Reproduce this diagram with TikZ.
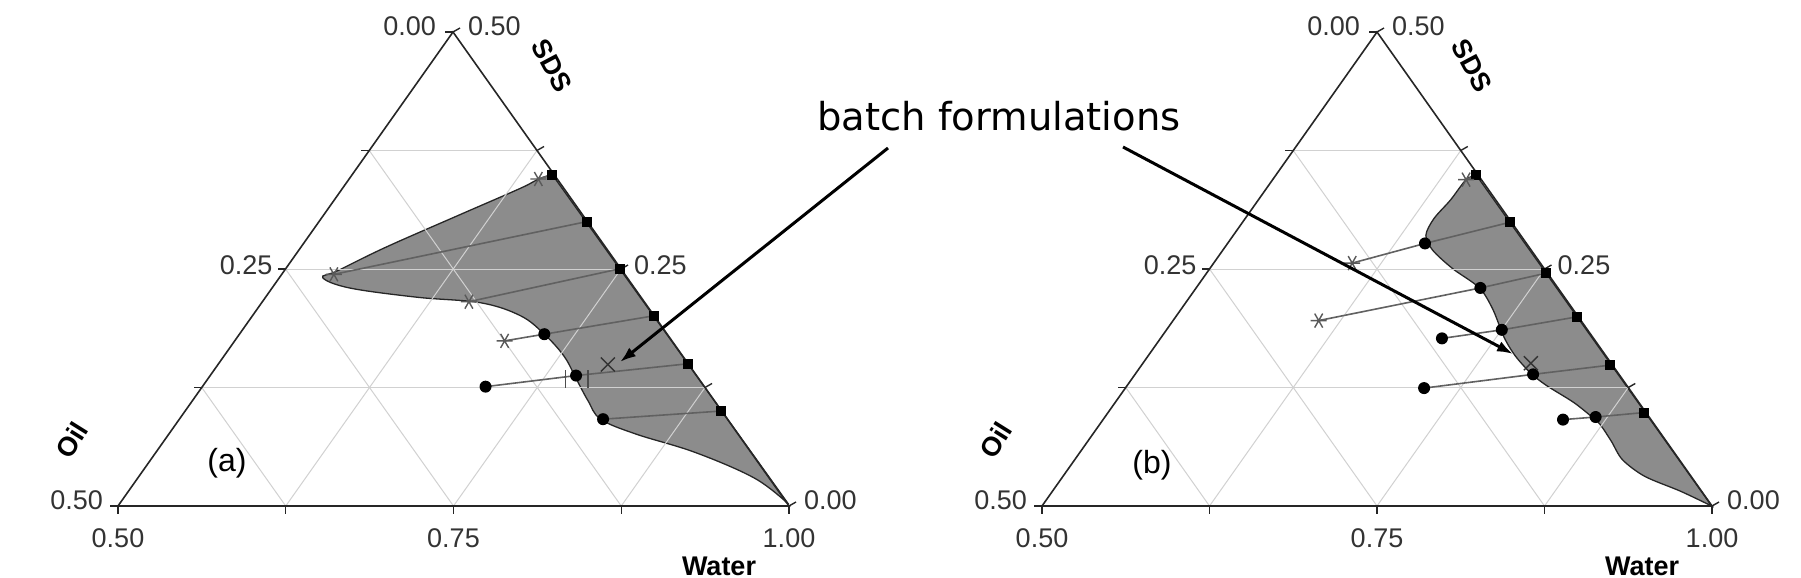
\documentclass[tikz,border=0pt]{standalone}
\usepackage{fontspec}
\setmainfont{Liberation Sans}
\newfontfamily\dv{DejaVu Sans}
\usetikzlibrary{calc,arrows.meta}
\tikzset{
  side/.style={draw=black!85, line width=1.6pt},
  gridl/.style={draw=black!18, line width=1pt},
  tick/.style={draw=black!85, line width=1.4pt},
  num/.style={font=\fontsize{27}{27}\selectfont, text=black!80, inner sep=1pt},
  axl/.style={font=\bfseries\fontsize{27}{27}\selectfont, inner sep=0pt},
  region/.style={fill=black!45, draw=black!85, line width=1.3pt},
  tie/.style={draw=black!62, line width=1.6pt},
  mdot/.style={circle, fill=black, inner sep=0pt, minimum size=12pt},
  msq/.style={rectangle, fill=black, inner sep=0pt, minimum size=10pt},
  callout/.style={line width=3pt, -{Latex[length=16pt,width=11pt]}},
  astk/.pic={\draw[black!65, line width=1.4pt] (-8pt,0)--(8pt,0) (-4pt,-7pt)--(4pt,7pt) (-4pt,7pt)--(4pt,-7pt);},
  xmk/.pic={\draw[black!80, line width=1.4pt] (-7pt,-7pt)--(7pt,7pt) (-7pt,7pt)--(7pt,-7pt);},
  vbar/.pic={\draw[black!70, line width=1.4pt] (0,-9pt)--(0,9pt);}
}
\newcommand\ternframe[3]{% apex L R
  \foreach \t in {0.25,0.5,0.75}{
    \draw[gridl] ($(#2)!\t!(#1)$) -- ($(#3)!\t!(#1)$);
    \draw[gridl] ($(#2)!\t!(#3)$) -- ($(#1)!\t!(#3)$);
    \draw[gridl] ($(#2)!\t!(#3)$) -- ($(#2)!\t!(#1)$);
  }
  \draw[side] (#1) -- (#2) -- (#3) -- cycle;
  \foreach \t in {0,0.25,0.5,0.75,1}{
    \draw[tick] ($(#1)!\t!(#2)$) -- ++(-8,0);
    \draw[tick] ($(#2)!\t!(#3)$) -- ++(0,8);
    \draw[tick] ($(#1)!\t!(#3)$) -- ++(7,-4);
  }
  \node[num, anchor=east] at ($(#1)+(-16,-6)$) {0.00};
  \node[num, anchor=west] at ($(#1)+(14,-6)$) {0.50};
  \node[num, anchor=east] at ($($(#1)!0.5!(#2)$)+(-12,-4)$) {0.25};
  \node[num, anchor=west] at ($($(#1)!0.5!(#3)$)+(12,-4)$) {0.25};
  \node[num, anchor=east] at ($(#2)+(-14,-6)$) {0.50};
  \node[num, anchor=west] at ($(#3)+(14,-6)$) {0.00};
  \node[num] at ($(#2)+(0,32)$) {0.50};
  \node[num] at ($($(#2)!0.5!(#3)$)+(0,32)$) {0.75};
  \node[num] at ($(#3)+(0,32)$) {1.00};
}
\begin{document}
\begin{tikzpicture}[x=1pt,y=-1pt]
\useasboundingbox (0,0) rectangle (1801,578);
\fill[white] (0,0) rectangle (1801,578);
\coordinate (A1) at (453,32); \coordinate (L1) at (118,506); \coordinate (R1) at (789,506);
\coordinate (A2) at (1377,32); \coordinate (L2) at (1042,506); \coordinate (R2) at (1712,506);
% panel a
\begin{scope}[shift={(179.04,-2)}, x=0.39704pt, y=-0.36945pt]
  \draw[region] (940,478) -- (1535,1370)
    plot[smooth, tension=0.6] coordinates {(1535,1370) (1450,1300) (1300,1230) (1150,1180) (1062,1140) (1030,1090) (1000,1030) (970,970) (920,910) (860,860) (760,825) (600,810) (430,785) (362,757) (400,738) (520,675) (700,590) (860,515) (905,490) (940,478)} -- cycle;
\end{scope}
\ternframe{A1}{L1}{R1}
\begin{scope}[shift={(179.04,-2)}, x=0.39704pt, y=-0.36945pt]
  \coordinate (s1) at (940,478); \coordinate (s2) at (1028,605); \coordinate (s3) at (1110,733);
  \coordinate (s4) at (1197,860); \coordinate (s5) at (1282,990); \coordinate (s6) at (1365,1118);
  \coordinate (a1) at (905,490); \coordinate (a2) at (390,748); \coordinate (a3) at (730,822);
  \coordinate (c4) at (920,910); \coordinate (a4) at (820,928);
  \coordinate (c5) at (1000,1022); \coordinate (d5) at (772,1052);
  \coordinate (c6) at (1068,1140); \coordinate (xa) at (1080,992);
  \coordinate (b1) at (973,1030); \coordinate (b2) at (1030,1030);
  \draw[tie] (s1) -- (a1); \draw[tie] (s2) -- (a2); \draw[tie] (s3) -- (a3);
  \draw[tie] (s4) -- (c4) -- (a4); \draw[tie] (s5) -- (c5) -- (d5); \draw[tie] (s6) -- (c6);
  \foreach \p in {s1,s2,s3,s4,s5,s6} \node[msq] at (\p) {};
  \foreach \p in {c4,c5,c6,d5} \node[mdot] at (\p) {};
  \foreach \p in {a1,a2,a3,a4} \pic at (\p) {astk};
  \pic at (xa) {xmk}; \pic at (b1) {vbar}; \pic at (b2) {vbar};
\end{scope}
% panel b
\begin{scope}[shift={(1099.8,-2.1)}, x=0.44667pt, y=-0.3709pt]
  \draw[region] (843,478) -- (1370,1370)
    plot[smooth, tension=0.5] coordinates {(1370,1370) (1300,1330) (1220,1290) (1170,1245) (1145,1195) (1120,1150) (1100,1128) (1060,1090) (1000,1045) (965,1012) (930,965) (905,915) (880,840) (850,782) (790,730) (745,680) (730,640) (748,595) (785,545) (820,490) (843,478)} -- cycle;
\end{scope}
\ternframe{A2}{L2}{R2}
\begin{scope}[shift={(1099.8,-2.1)}, x=0.44667pt, y=-0.3709pt]
  \coordinate (t1) at (843,478); \coordinate (t2) at (918,605); \coordinate (t3) at (1000,742);
  \coordinate (t4) at (1068,860); \coordinate (t5) at (1143,990); \coordinate (t6) at (1218,1118);
  \coordinate (e2) at (728,662); \coordinate (e3) at (852,782); \coordinate (e4) at (900,895);
  \coordinate (e5) at (970,1015); \coordinate (e6) at (1110,1130);
  \coordinate (g1) at (820,490); \coordinate (g2) at (565,715); \coordinate (g3) at (490,870);
  \coordinate (f4) at (766,918); \coordinate (f5) at (726,1052); \coordinate (f6) at (1037,1137);
  \coordinate (xb) at (965,985);
  \draw[tie] (t1) -- (g1); \draw[tie] (t2) -- (e2) -- (g2); \draw[tie] (t3) -- (e3) -- (g3);
  \draw[tie] (t4) -- (e4) -- (f4); \draw[tie] (t5) -- (e5) -- (f5); \draw[tie] (t6) -- (e6) -- (f6);
  \foreach \p in {t1,t2,t3,t4,t5,t6} \node[msq] at (\p) {};
  \foreach \p in {e2,e3,e4,e5,e6,f4,f5,f6} \node[mdot] at (\p) {};
  \foreach \p in {g1,g2,g3} \pic at (\p) {astk};
  \pic at (xb) {xmk};
\end{scope}
% labels
\node[axl, rotate=-62] (sdsa) at (552,66) {SDS};
\node[axl, rotate=-62] (sdsb) at (1472,66) {SDS};
\node[axl, rotate=58] (oila) at (72,440) {Oil};
\node[axl, rotate=58] (oilb) at (996,440) {Oil};
\node[axl] (wata) at (719,566) {Water};
\node[axl] (watb) at (1642,566) {Water};
\node[font=\fontsize{32}{32}\selectfont] (pa) at (227,463) {(a)};
\node[font=\fontsize{32}{32}\selectfont] (pb) at (1152,465) {(b)};
\node[font=\dv\fontsize{38.5}{38.5}\selectfont, inner sep=0pt] (bf) at (999,116) {batch formulations};
\coordinate (st1) at (888,148); \coordinate (en1) at (620,362);
\coordinate (st2) at (1123,147); \coordinate (en2) at (1513,354);
\draw[callout] (st1) -- (en1);
\draw[callout] (st2) -- (en2);
\end{tikzpicture}
\end{document}
